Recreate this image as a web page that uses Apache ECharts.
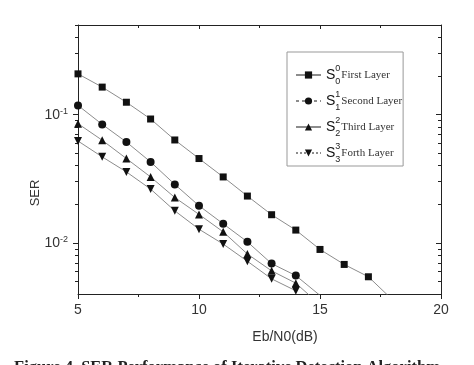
<!DOCTYPE html>
<html>
<head>
<meta charset="utf-8">
<script src="https://cdn.jsdelivr.net/npm/echarts@6/dist/echarts.min.js"></script>
<style>
  html, body { margin: 0; padding: 0; background: #fff; }
  #chart { width: 474px; height: 365px; }
</style>
</head>
<body>
<div id="chart"></div>
<script>
// Eb/N0 (dB) sample points
const snr = [5, 6, 7, 8, 9, 10, 11, 12, 13, 14, 15, 16, 17, 18];

// SER per detection layer
const layerNames = ['First Layer', 'Second Layer', 'Third Layer', 'Forth Layer'];
const layer0 = [0.208, 0.164, 0.125, 0.0925, 0.0635, 0.0455, 0.0327, 0.0232, 0.0166, 0.0126, 0.0089, 0.0068, 0.00545, 0.0036];
const layer1 = [0.118, 0.084, 0.0612, 0.0428, 0.0286, 0.0195, 0.0141, 0.0102, 0.0069, 0.00557, 0.0039];
const layer2 = [0.0851, 0.0632, 0.0455, 0.0327, 0.0226, 0.0167, 0.0122, 0.0082, 0.00606, 0.00486, 0.0033];
const layer3 = [0.0623, 0.0469, 0.0358, 0.0263, 0.0178, 0.0128, 0.0098, 0.0072, 0.00525, 0.00424];

const yMajorTicks = [0.01, 0.1];
const yMinorTicks = [0.005, 0.006, 0.007, 0.008, 0.009, 0.02, 0.03, 0.04, 0.05, 0.06, 0.07, 0.08, 0.09, 0.2, 0.3, 0.4, 0.5];

const lineGray = '#8c8c8c';
const axisColor = '#222';
const sans = 'Liberation Sans';

const toPairs = vals => vals.map((v, i) => [snr[i], v]);

const makeSeries = (name, vals, symbol, size, rotate) => ({
    name,
    type: 'line',
    data: toPairs(vals),
    symbol,
    symbolSize: size,
    symbolRotate: rotate || 0,
    clip: true,
    lineStyle: { color: lineGray, width: 1 },
    itemStyle: { color: '#111' },
    emphasis: { disabled: true }
});

const xBase = {
    type: 'value',
    min: 5,
    max: 20,
    interval: 5,
    splitLine: { show: false },
    axisLine: { lineStyle: { color: axisColor, width: 1 } },
    minorTick: { show: true, splitNumber: 2, length: 3, lineStyle: { color: axisColor } }
};

const yBase = {
    type: 'log',
    logBase: 10,
    min: 0.004,
    max: 0.5,
    splitLine: { show: false },
    minorTick: { show: false },
    axisLine: { show: false, lineStyle: { color: axisColor, width: 1 } }
};

const chart = echarts.init(document.getElementById('chart'));

chart.setOption({
    backgroundColor: '#fff',
    animation: false,
    grid: { left: 78, right: 33, top: 25, bottom: 71 },
    xAxis: [
        {
            ...xBase,
            position: 'bottom',
            axisTick: { inside: false, length: 5, lineStyle: { color: axisColor } },
            axisLabel: { fontSize: 14, color: '#333', margin: 9, fontFamily: sans }
        },
        {
            ...xBase,
            position: 'top',
            axisTick: { inside: true, length: 4, lineStyle: { color: axisColor } },
            axisLabel: { show: false }
        }
    ],
    yAxis: [
        {
            ...yBase,
            position: 'left',
            axisLine: { show: true, lineStyle: { color: axisColor, width: 1 } },
            axisTick: { inside: false, length: 5, customValues: yMajorTicks, lineStyle: { color: axisColor } },
            axisLabel: {
                customValues: yMajorTicks,
                margin: 10,
                formatter: v => '{b|10}{e|' + Math.round(Math.log10(v)) + '}',
                rich: {
                    b: { fontSize: 14, color: '#333', fontFamily: sans, lineHeight: 16 },
                    e: { fontSize: 9, color: '#333', fontFamily: sans, lineHeight: 10, verticalAlign: 'top' }
                }
            }
        },
        {
            ...yBase,
            position: 'left',
            axisTick: { inside: false, length: 3, customValues: yMinorTicks, lineStyle: { color: axisColor } },
            axisLabel: { show: false }
        },
        {
            ...yBase,
            position: 'right',
            axisLine: { show: true, lineStyle: { color: axisColor, width: 1 } },
            axisTick: { inside: true, length: 5, customValues: yMajorTicks, lineStyle: { color: axisColor } },
            axisLabel: { show: false }
        },
        {
            ...yBase,
            position: 'right',
            axisTick: { inside: true, length: 3, customValues: yMinorTicks, lineStyle: { color: axisColor } },
            axisLabel: { show: false }
        }
    ],
    legend: {
        orient: 'vertical',
        left: 287,
        top: 52,
        padding: [12, 1, 2, 8],
        itemGap: 4,
        itemWidth: 25,
        itemHeight: 9,
        borderColor: '#999',
        borderWidth: 1,
        selectedMode: false,
        data: [
            { name: layerNames[0], lineStyle: { type: 'solid' } },
            { name: layerNames[1], lineStyle: { type: [3, 3] } },
            { name: layerNames[2], lineStyle: { type: 'solid' } },
            { name: layerNames[3], lineStyle: { type: [2, 2] } }
        ],
        formatter: name => {
            const i = layerNames.indexOf(name);
            return '{s|S}{sup|' + i + '}{sub|' + i + '}{n|' + name + '}';
        },
        textStyle: {
            rich: {
                s: { fontSize: 14, fontFamily: sans, color: '#111', lineHeight: 22 },
                sup: { fontSize: 9, fontFamily: sans, color: '#222', lineHeight: 11, verticalAlign: 'top', width: 0 },
                sub: { fontSize: 9, fontFamily: sans, color: '#222', lineHeight: 11, verticalAlign: 'bottom', width: 6 },
                n: { fontSize: 11, fontFamily: 'Liberation Serif', color: '#333' }
            }
        }
    },
    graphic: [
        {
            type: 'text',
            x: 35,
            y: 193,
            rotation: Math.PI / 2,
            style: { text: 'SER', fontSize: 13, fontFamily: sans, fill: '#333', align: 'center', verticalAlign: 'middle' }
        },
        {
            type: 'text',
            x: 285,
            y: 337,
            style: { text: 'Eb/N0(dB)', fontSize: 14, fontFamily: sans, fill: '#333', align: 'center', verticalAlign: 'middle' }
        },
        {
            type: 'text',
            x: 227,
            y: 359,
            style: {
                text: 'Figure 4. SER Performance of Iterative Detection Algorithm',
                fontSize: 16.5,
                fontWeight: 'bold',
                fontFamily: 'Liberation Serif',
                fill: '#222',
                align: 'center',
                verticalAlign: 'top'
            }
        }
    ],
    series: [
        makeSeries(layerNames[0], layer0, 'rect', 7),
        makeSeries(layerNames[1], layer1, 'circle', 8),
        makeSeries(layerNames[2], layer2, 'triangle', 8),
        makeSeries(layerNames[3], layer3, 'triangle', 8, 180)
    ]
});
</script>
</body>
</html>
